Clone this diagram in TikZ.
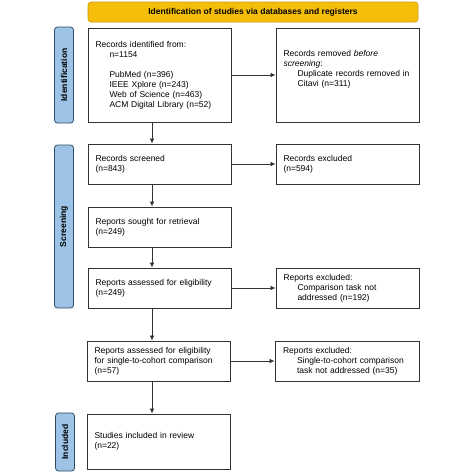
\documentclass[tikz,border=0pt]{standalone}
\usepackage{fontspec}
\setmainfont{Liberation Sans}
\usetikzlibrary{arrows.meta}
\definecolor{hdrfill}{HTML}{F5BE0B}
\definecolor{hdrdraw}{HTML}{C99A10}
\definecolor{sidefill}{HTML}{9DC3E6}
\definecolor{sidedraw}{HTML}{2E4A66}
\definecolor{linec}{HTML}{333333}
\begin{document}
\begin{tikzpicture}[x=1pt,y=-1pt,
  every node/.style={font=\fontsize{8.5}{10}\selectfont},
  box/.style={draw=linec,line width=0.8pt,minimum width=143pt,inner xsep=7.5pt,
    text width=128pt,align=left,fill=white},
  sidelab/.style={draw=sidedraw,fill=sidefill,line width=0.8pt,rounded corners=3pt,
    rotate=90,minimum height=19pt,inner sep=0pt,font=\fontsize{8.5}{10}\selectfont\bfseries},
  hdr/.style={draw=hdrdraw,fill=hdrfill,line width=0.6pt,rounded corners=3pt,
    minimum width=330pt,minimum height=20pt,inner sep=0pt,font=\fontsize{8.5}{10}\selectfont\bfseries},
  arr/.style={draw=linec,line width=0.7pt,-{Latex[length=5pt,width=4.5pt]}}]
\useasboundingbox (0,0) rectangle (474,474);
\node[hdr] (hdr) at (253,12) {Identification of studies via databases and registers};
\node[sidelab,minimum width=96pt] (sid) at (64,75) {Identification};
\node[sidelab,minimum width=163pt] (ssc) at (64,226.5) {Screening};
\node[sidelab,minimum width=58pt] (sin) at (65,442) {Included};
\node[box,minimum height=94pt] (b1) at (159.5,75) {Records identified from:\\
\hspace*{14pt}n=1154\\[10pt]
\hspace*{14pt}PubMed (n=396)\\
\hspace*{14pt}IEEE Xplore (n=243)\\
\hspace*{14pt}Web of Science (n=463)\\
\hspace*{14pt}ACM Digital Library (n=52)};
\node[box,minimum height=94pt] (b2) at (347.5,75) {Records removed \textit{before}\\
\textit{screening}:\\
\hspace*{14pt}Duplicate records removed in\\
\hspace*{14pt}Citavi (n=311)\\ \strut};
\node[box,minimum height=40pt] (sc) at (159.5,164) {Records screened\\(n=843)};
\node[box,minimum height=40pt] (ex) at (347.5,164) {Records excluded\\(n=594)};
\node[box,minimum height=40pt] (so) at (159.5,227) {Reports sought for retrieval\\(n=249)};
\node[box,minimum height=40pt] (as) at (159.5,288) {Reports assessed for eligibility\\(n=249)};
\node[box,minimum height=40pt] (ex1) at (347.5,288) {Reports excluded:\\
\hspace*{14pt}Comparison task not\\
\hspace*{14pt}addressed (n=192)};
\node[box,minimum height=40pt] (si) at (158.5,361) {Reports assessed for eligibility\\for single-to-cohort comparison\\(n=57)};
\node[box,minimum height=40pt,minimum width=144pt] (ex2) at (347,361) {Reports excluded:\\
\hspace*{14pt}Single-to-cohort comparison\\
\hspace*{14pt}task not addressed (n=35)};
\node[box,minimum height=55pt] (st) at (158.5,441.5) {Studies included in review\\(n=22)};
\coordinate (ax) at (152,0);
\draw[arr] (b1.east) -- (b2.west);
\draw[arr] (sc.east) -- (ex.west);
\draw[arr] (as.east) -- (ex1.west);
\draw[arr] (si.east) -- (ex2.west);
\draw[arr] (b1.south -| ax) -- (sc.north -| ax);
\draw[arr] (sc.south -| ax) -- (so.north -| ax);
\draw[arr] (so.south -| ax) -- (as.north -| ax);
\draw[arr] (as.south -| ax) -- (si.north -| ax);
\draw[arr] (si.south -| ax) -- (st.north -| ax);
\end{tikzpicture}
\end{document}
